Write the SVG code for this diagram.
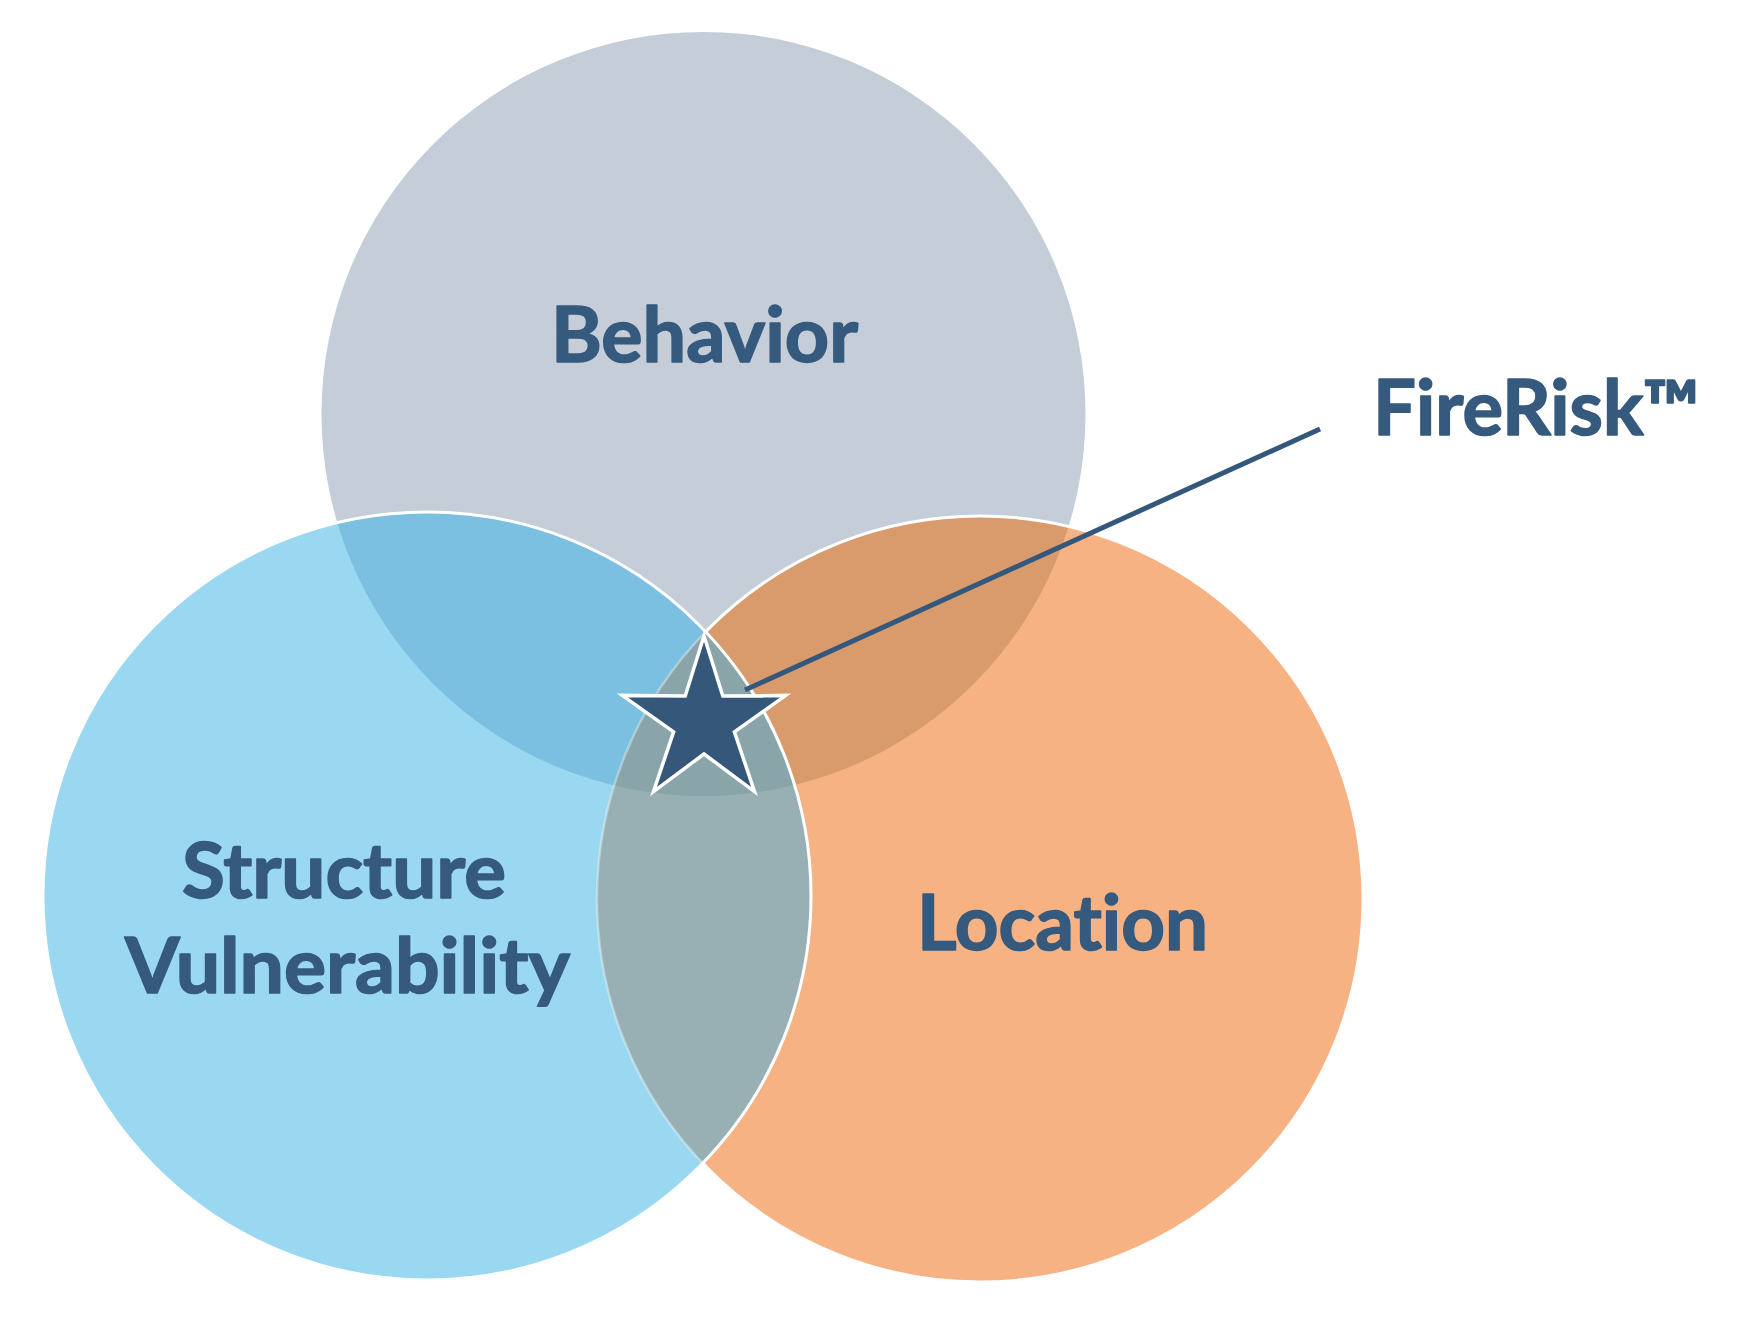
<svg xmlns="http://www.w3.org/2000/svg" width="1737" height="1327" viewBox="0 0 1737 1327">
  <style>
    .lbl { font-family: "Lato", "Open Sans", "Liberation Sans", sans-serif; font-weight: 700; font-size: 76px; fill: #355A7E; stroke: #355A7E; stroke-width: 1.6; stroke-linejoin: round; font-variant-ligatures: none; font-feature-settings: "liga" 0, "clig" 0, "dlig" 0; }
    .wstroke { fill: none; stroke: #FFFFFF; stroke-width: 3; }
  </style>
  <defs>
    <clipPath id="clipB"><circle cx="703.5" cy="414" r="382"/></clipPath>
    <clipPath id="clipS"><circle cx="427" cy="896" r="384"/></clipPath>
  </defs>
  <rect width="1737" height="1327" fill="#FFFFFF"/>

  <g id="node-behavior">
    <circle cx="703.5" cy="414" r="382" fill="#C4CDD8"/>
    <text class="lbl" x="551" y="362" textLength="307" lengthAdjust="spacingAndGlyphs">Behavior</text>
  </g>

  <g id="node-location">
    <circle cx="980" cy="899" r="383" fill="#F6B282"/>
    <text class="lbl" x="917" y="950" textLength="291" lengthAdjust="spacingAndGlyphs">Location</text>
  </g>

  <g id="overlap-behavior-location">
    <circle cx="980" cy="899" r="383" fill="#D99B6C" clip-path="url(#clipB)"/>
    <circle class="wstroke" cx="980" cy="899" r="383"/>
  </g>

  <g id="node-structure">
    <circle cx="427" cy="896" r="384" fill="#9AD8F2"/>
    <text class="lbl" x="182" y="898" textLength="324" lengthAdjust="spacingAndGlyphs">Structure</text>
    <text class="lbl" x="125" y="993" textLength="445" lengthAdjust="spacingAndGlyphs">Vulnerability</text>
  </g>

  <g id="overlaps">
    <circle cx="427" cy="896" r="384" fill="#7BBFE1" clip-path="url(#clipB)"/>
    <circle cx="980" cy="899" r="383" fill="#98B0B4" clip-path="url(#clipS)"/>
    <g clip-path="url(#clipB)">
      <circle cx="980" cy="899" r="383" fill="#89A5AA" clip-path="url(#clipS)"/>
    </g>
    <circle cx="980" cy="899" r="383" fill="none" stroke="#FFFFFF" stroke-opacity="0.35" stroke-width="2.5" clip-path="url(#clipS)"/>
    <circle class="wstroke" cx="427" cy="896" r="384"/>
  </g>

  <g id="connectors">
    <line x1="1320" y1="429" x2="745" y2="690" stroke="#34587B" stroke-width="5" stroke-linecap="butt"/>
  </g>

  <g id="node-firerisk">
    <polygon points="704,636 722.8,696.1 785.8,695.4 734.4,731.9 754.5,791.6 704,754 653.5,791.6 673.6,731.9 622.2,695.4 685.2,696.1" fill="#34577A" stroke="#FFFFFF" stroke-width="3.5" stroke-linejoin="miter"/>
    <text class="lbl" x="1373" y="435" textLength="327" lengthAdjust="spacingAndGlyphs">FireRisk™</text>
  </g>
</svg>
